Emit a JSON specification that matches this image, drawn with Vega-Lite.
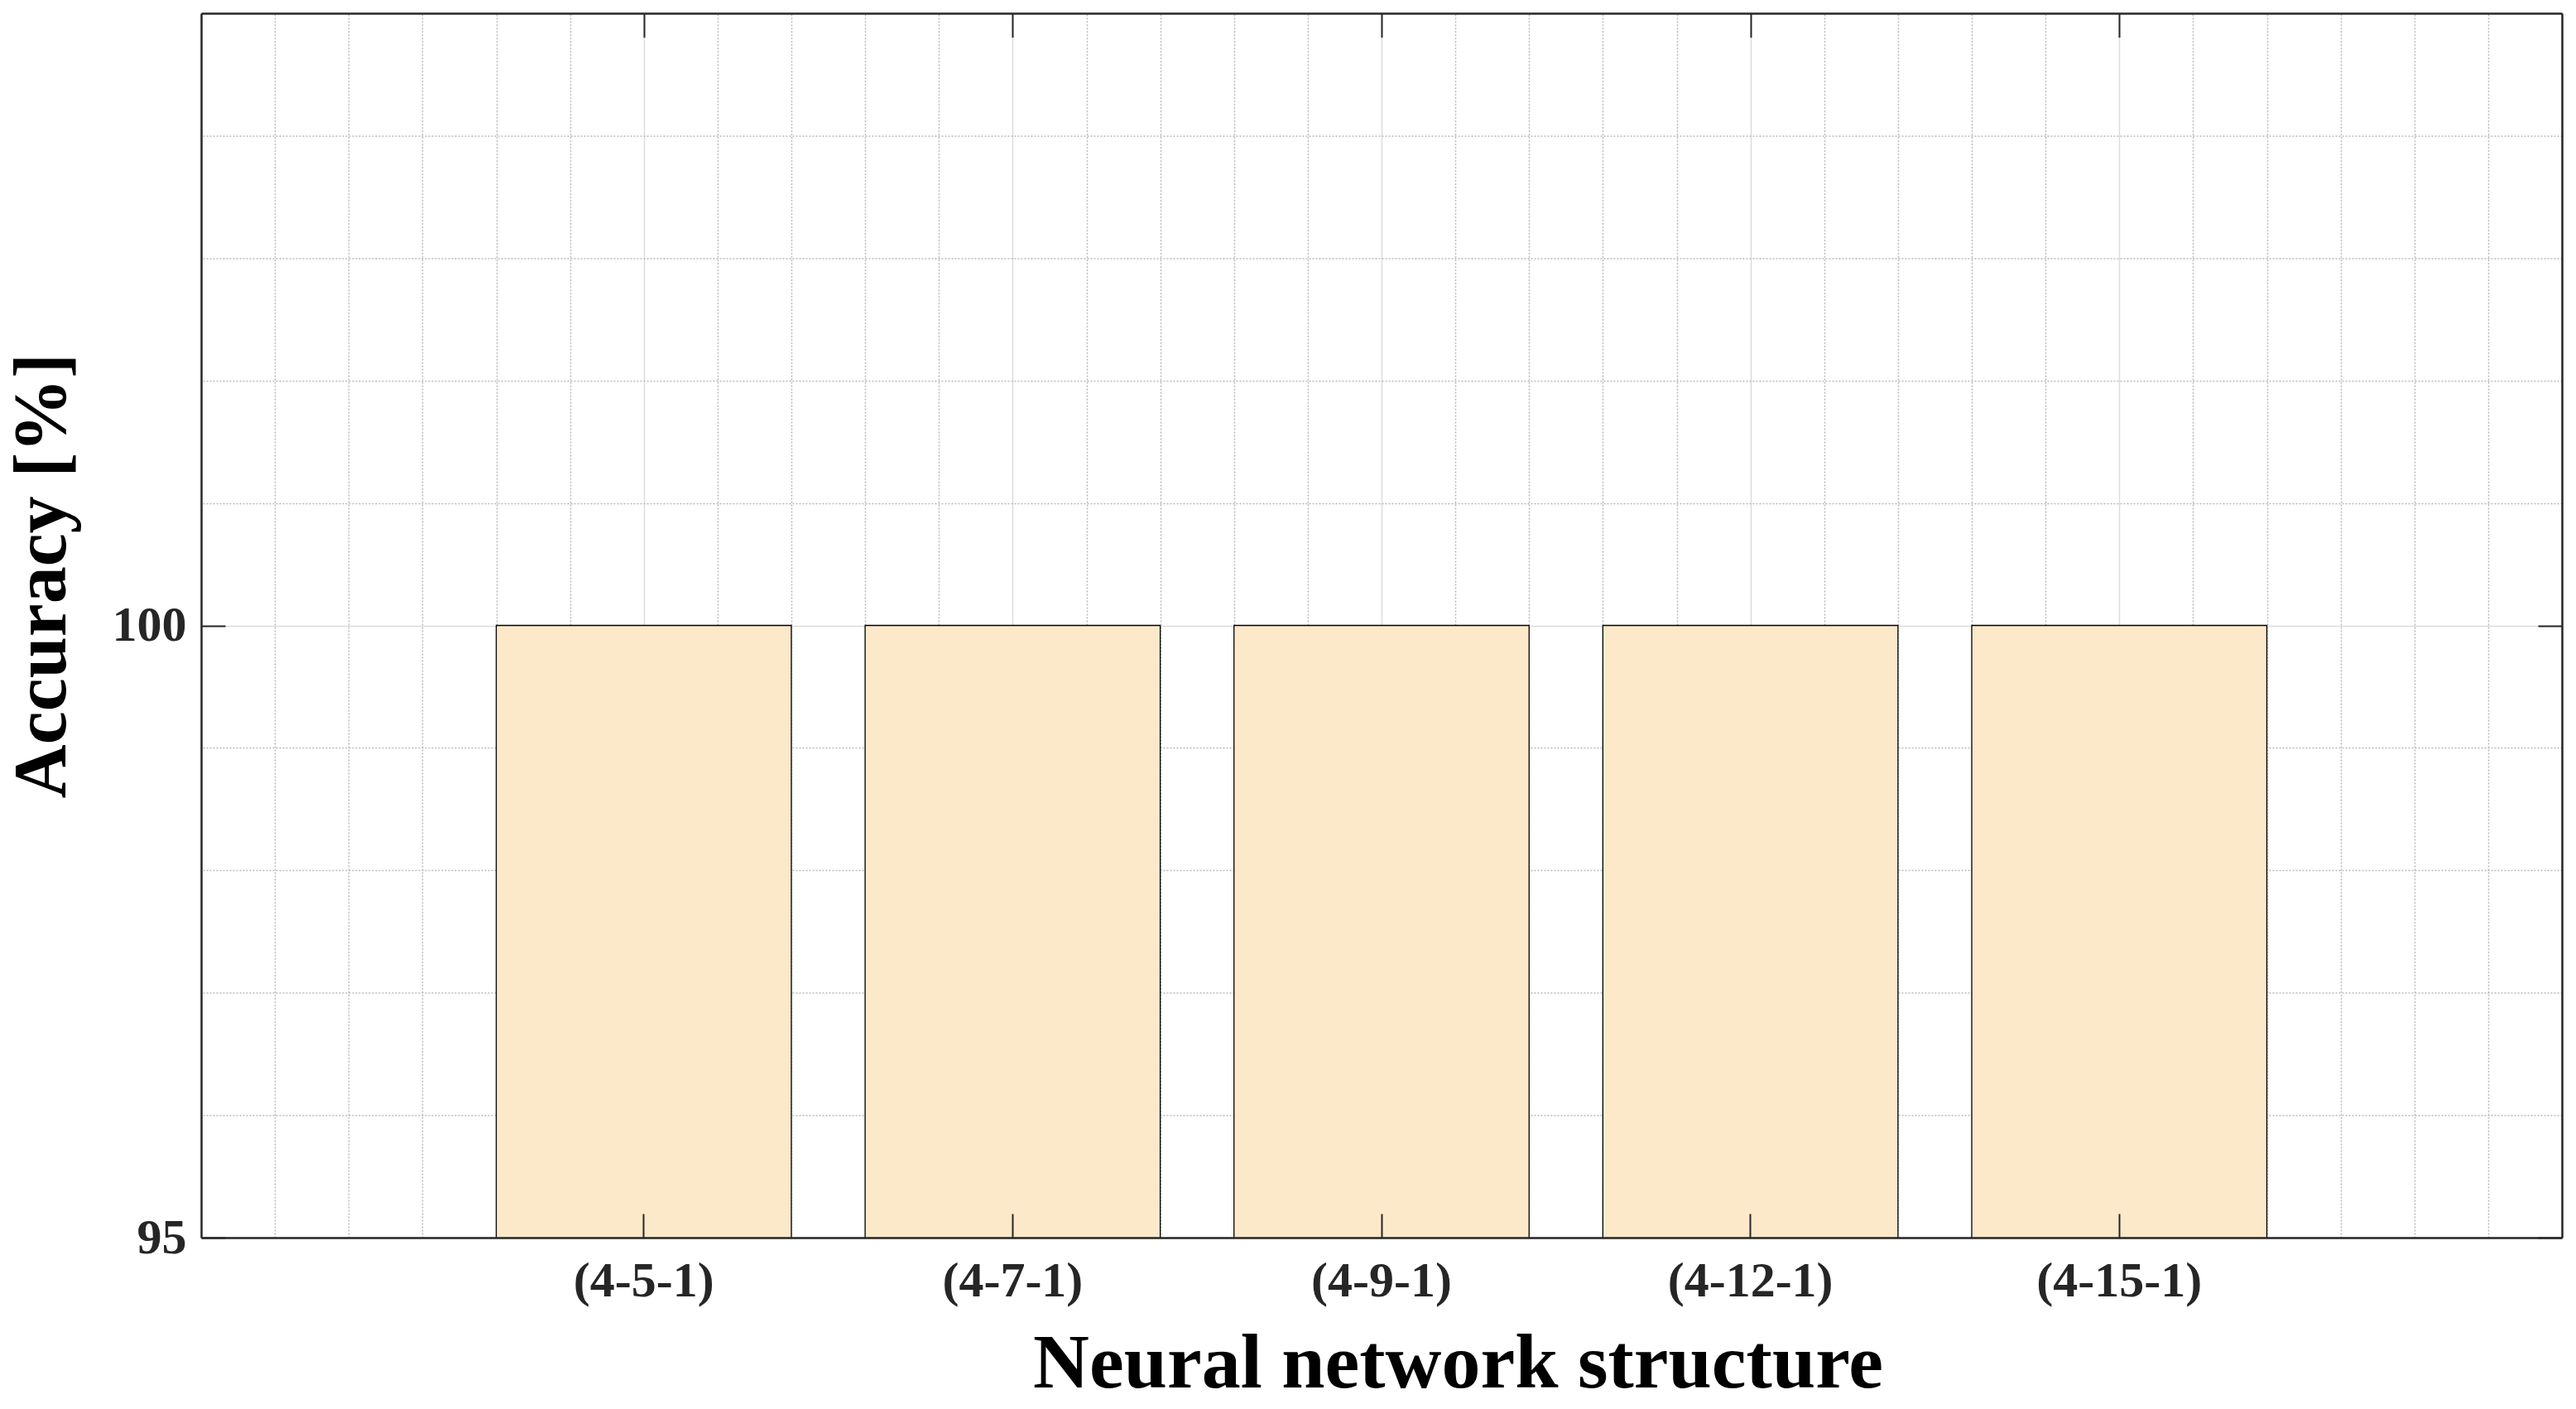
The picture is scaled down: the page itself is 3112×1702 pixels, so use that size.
{
  "$schema": "https://vega.github.io/schema/vega-lite/v6.json",
  "width": 2852,
  "height": 1479,
  "autosize": {"type": "none"},
  "padding": {"left": 243, "top": 16, "right": 17, "bottom": 207},
  "background": "white",
  "config": {"view": {"stroke": null}, "font": "Liberation Serif"},
  "data": {
    "values": [
      {"structure": "(4-5-1)", "accuracy": 100},
      {"structure": "(4-7-1)", "accuracy": 100},
      {"structure": "(4-9-1)", "accuracy": 100},
      {"structure": "(4-12-1)", "accuracy": 100},
      {"structure": "(4-15-1)", "accuracy": 100}
    ]
  },
  "layer": [
    {
      "mark": {"type": "point", "opacity": 0},
      "encoding": {
        "x": {
          "datum": 1,
          "type": "quantitative",
          "scale": {"domain": [-0.2, 6.2], "nice": false, "zero": false},
          "axis": {
            "orient": "top",
            "values": [-0.2, 0, 0.2, 0.4, 0.6, 0.8, 1, 1.2, 1.4, 1.6, 1.8, 2, 2.2, 2.4, 2.6, 2.8, 3, 3.2, 3.4, 3.6, 3.8, 4, 4.2, 4.4, 4.6, 4.8, 5, 5.2, 5.4, 5.6, 5.8, 6, 6.2],
            "labels": false,
            "title": null,
            "domain": true,
            "domainColor": "#262626",
            "domainWidth": 2.5,
            "grid": true,
            "gridWidth": 1.5,
            "gridColor": {"condition": {"test": "abs(datum.value - round(datum.value)) < 0.01 && datum.value > 0.5 && datum.value < 5.5", "value": "#dcdcdc"}, "value": "#b8b8b8"},
            "gridDash": {"condition": {"test": "abs(datum.value - round(datum.value)) < 0.01 && datum.value > 0.5 && datum.value < 5.5", "value": []}, "value": [2, 2]},
            "gridOpacity": {"condition": {"test": "datum.value < 0 || datum.value > 6", "value": 0}, "value": 1},
            "ticks": true,
            "tickSize": -29,
            "tickWidth": 2,
            "tickColor": "#262626",
            "tickOpacity": {"condition": {"test": "abs(datum.value - round(datum.value)) < 0.01 && datum.value > 0.5 && datum.value < 5.5", "value": 1}, "value": 0},
            "zindex": 0
          }
        },
        "y": {
          "field": "accuracy",
          "type": "quantitative",
          "scale": {"domain": [95, 105], "nice": false, "zero": false},
          "axis": {
            "orient": "right",
            "values": [95, 96, 97, 98, 99, 100, 101, 102, 103, 104, 105],
            "labels": false,
            "title": null,
            "domain": true,
            "domainColor": "#262626",
            "domainWidth": 2.5,
            "grid": true,
            "gridWidth": 1.5,
            "gridColor": {"condition": {"test": "datum.value == 100", "value": "#dcdcdc"}, "value": "#b8b8b8"},
            "gridDash": {"condition": {"test": "datum.value == 100", "value": []}, "value": [2, 2]},
            "gridOpacity": {"condition": {"test": "datum.value == 95 || datum.value == 105", "value": 0}, "value": 1},
            "ticks": true,
            "tickSize": -29,
            "tickWidth": 2,
            "tickColor": "#262626",
            "tickOpacity": {"condition": {"test": "datum.value == 95 || datum.value == 100", "value": 1}, "value": 0},
            "zindex": 0
          }
        }
      }
    },
    {
      "mark": {"type": "bar", "fill": "#FCE9CA", "stroke": "#000000", "strokeWidth": 1.3, "clip": true},
      "encoding": {
        "x": {
          "field": "structure",
          "type": "nominal",
          "sort": null,
          "scale": {"paddingInner": 0.2, "paddingOuter": 0.8},
          "axis": {
            "orient": "bottom",
            "labelAngle": 0,
            "labelLimit": 0,
            "labelFont": "Liberation Serif",
            "labelFontWeight": "bold",
            "labelFontSize": 60,
            "labelColor": "#262626",
            "labelPadding": 52,
            "domain": true,
            "domainColor": "#262626",
            "domainWidth": 2.5,
            "grid": false,
            "ticks": true,
            "tickSize": -29,
            "tickWidth": 2,
            "tickColor": "#262626",
            "title": "Neural network structure",
            "titleFont": "Liberation Serif",
            "titleFontWeight": "bold",
            "titleFontSize": 94,
            "titleColor": "#000000",
            "titleAlign": "center",
            "titleBaseline": "alphabetic",
            "titleX": 1518,
            "titleY": 180,
            "zindex": 1
          }
        },
        "y": {
          "field": "accuracy",
          "type": "quantitative",
          "scale": {"domain": [95, 105], "nice": false, "zero": false},
          "axis": {
            "orient": "left",
            "values": [95, 100],
            "labelFont": "Liberation Serif",
            "labelFontWeight": "bold",
            "labelFontSize": 60,
            "labelColor": "#262626",
            "labelPadding": 47,
            "domain": true,
            "domainColor": "#262626",
            "domainWidth": 2.5,
            "grid": false,
            "ticks": true,
            "tickSize": -29,
            "tickWidth": 2,
            "tickColor": "#262626",
            "title": "Accuracy [%]",
            "titleFont": "Liberation Serif",
            "titleFontWeight": "bold",
            "titleFontSize": 90,
            "titleColor": "#000000",
            "titleAngle": 270,
            "titleAlign": "center",
            "titleBaseline": "alphabetic",
            "titleX": -165,
            "titleY": 679,
            "zindex": 1
          }
        }
      }
    }
  ],
  "resolve": {
    "scale": {"x": "independent"},
    "axis": {"x": "independent", "y": "independent"}
  }
}
